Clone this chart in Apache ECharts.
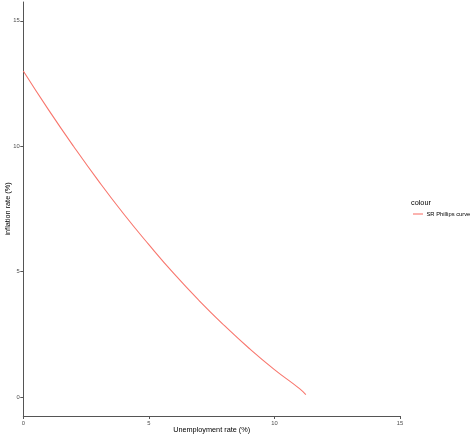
<!DOCTYPE html>
<html>
<head>
<meta charset="utf-8">
<script src="https://cdn.jsdelivr.net/npm/echarts@6/dist/echarts.min.js"></script>
<style>html,body{margin:0;padding:0;background:#fff}#c{width:474px;height:436px}</style>
</head>
<body>
<div id="c"></div>
<script>
var unemployment = [0, 1, 2, 3, 4, 5, 6, 7, 8, 9, 10, 11, 11.25];
var inflation = [13, 11.46, 10.0, 8.61, 7.30, 6.08, 4.92, 3.85, 2.86, 1.94, 1.10, 0.34, 0.1];
var xTicks = [0, 5, 10, 15];
var yTicks = [0, 5, 10, 15];
var seriesName = 'SR Phillips curve';

var chart = echarts.init(document.getElementById('c'), null, {renderer: 'canvas'});
var pts = unemployment.map(function (u, i) { return [u, inflation[i]]; });
var font = 'Liberation Sans, Arial, sans-serif';
chart.setOption({
  animation: false,
  backgroundColor: '#ffffff',
  grid: {left: 23.3, right: 74, top: 2, bottom: 20, containLabel: false, outerBoundsMode: 'none'},
  xAxis: {
    type: 'value', min: 0, max: 15,
    name: 'Unemployment rate (%)', nameLocation: 'middle', nameGap: 10.7, nameMoveOverlap: false,
    nameTextStyle: {color: '#000', fontSize: 7.3, fontFamily: font},
    axisLine: {show: true, onZero: false, lineStyle: {color: '#555', width: 1}},
    axisTick: {show: true, length: 3, customValues: xTicks, lineStyle: {color: '#555'}},
    axisLabel: {customValues: xTicks, color: '#4d4d4d', fontSize: 5.8, margin: 4, fontFamily: font},
    splitLine: {show: false}
  },
  yAxis: {
    type: 'value', min: -0.75, max: 15.75,
    name: 'inflation rate (%)', nameLocation: 'middle', nameGap: 11.7, nameRotate: 90, nameMoveOverlap: false,
    nameTextStyle: {color: '#000', fontSize: 7.3, fontFamily: font},
    axisLine: {show: true, onZero: false, lineStyle: {color: '#555', width: 1}},
    axisTick: {show: true, length: 3, customValues: yTicks, lineStyle: {color: '#555'}},
    axisLabel: {customValues: yTicks, color: '#4d4d4d', fontSize: 5.8, margin: 3.5, fontFamily: font},
    splitLine: {show: false}
  },
  legend: {
    data: [seriesName], orient: 'vertical', left: 413, top: 211, padding: 0,
    icon: 'rect', itemWidth: 10, itemHeight: 1.1, itemGap: 4,
    textStyle: {color: '#000', fontSize: 5.8, fontFamily: font, padding: [0, 0, 0, -1.5]}
  },
  graphic: [{
    type: 'text', left: 411, top: 199,
    style: {text: 'colour', fill: '#000', font: '7.3px ' + font}
  }],
  series: [{
    name: seriesName, type: 'line', data: pts, smooth: true, showSymbol: false,
    lineStyle: {color: '#F8766D', width: 1.1}, itemStyle: {color: '#F8766D'}
  }]
});
</script>
</body>
</html>
